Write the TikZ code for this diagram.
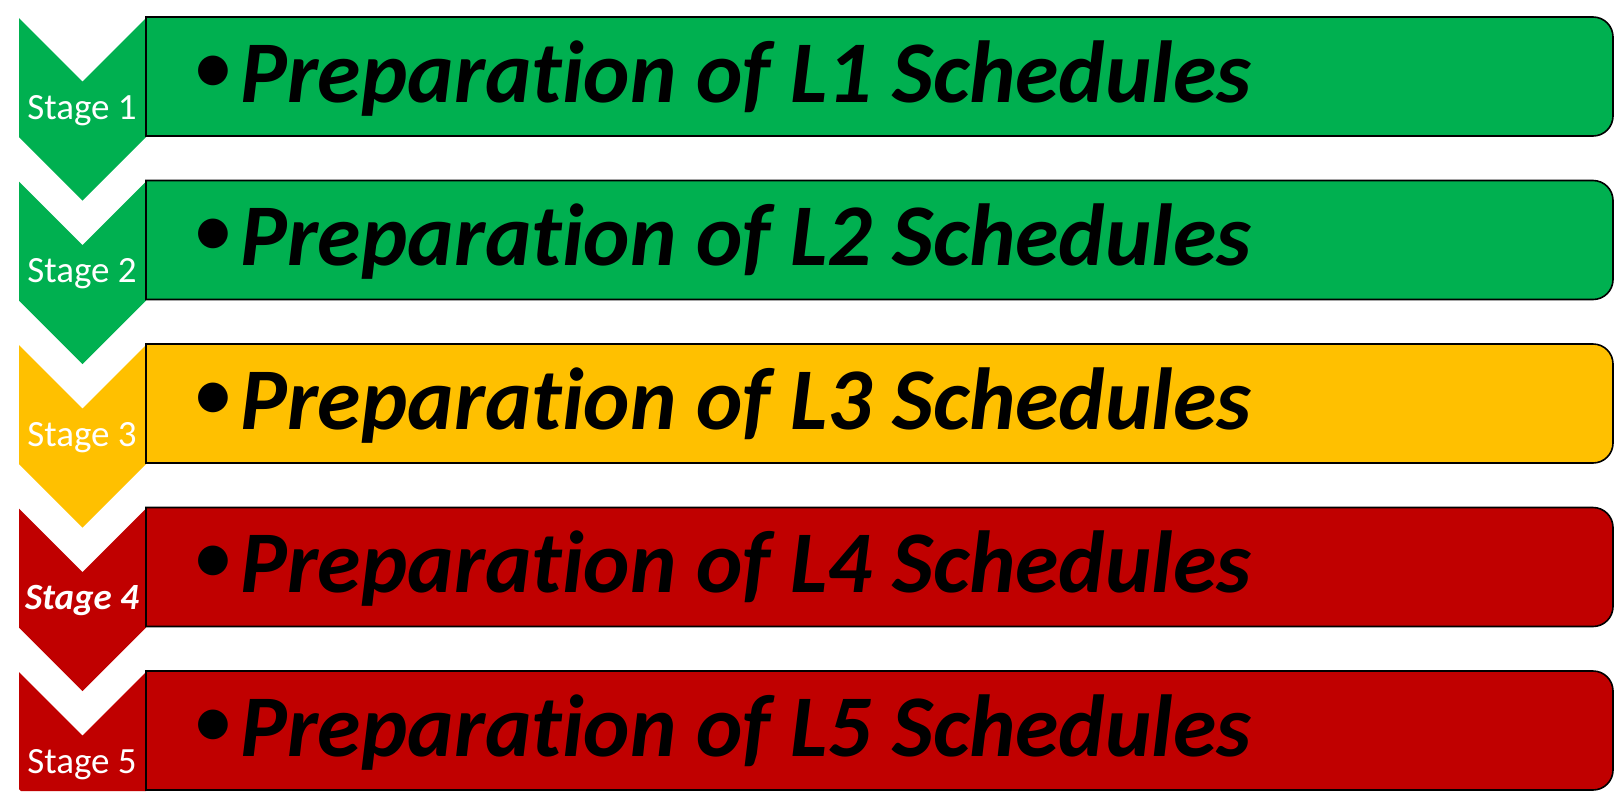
\documentclass[tikz,border=0pt]{standalone}
\usepackage{fontspec}
\setmainfont{Carlito}[Ligatures=NoCommon]
\definecolor{cgreen}{RGB}{0,176,80}
\definecolor{cyellow}{RGB}{255,192,0}
\definecolor{cred}{RGB}{192,0,0}
\tikzset{
  chev/.style={fill=#1, draw=none},
  bar/.style={fill=#1, draw=black, line width=1.6pt},
  stagetxt/.style={text=white, anchor=base, inner sep=0pt, font=\fontsize{37}{40}\selectfont},
  maintxt/.style={text=black, anchor=base west, inner sep=0pt, font=\fontsize{88}{96}\selectfont\bfseries\itshape},
  bullettxt/.style={text=black, anchor=center, inner sep=0pt, font=\fontsize{84}{88}\selectfont},
}
\begin{document}
\begin{tikzpicture}[x=1pt,y=-1pt]
\useasboundingbox (0,0) rectangle (1624,809);
% chevrons
\foreach \T/\c in {17/cgreen,180.5/cgreen,344/cyellow,507.5/cred}{
  \fill[chev=\c] (19,\T+1) -- (82.5,\T+64.5) -- (146,\T+1) -- (146,\T+120) -- (82.5,\T+183.5) -- (19,\T+120) -- cycle;
}
\fill[chev=cred] (19,672) -- (82.5,735.5) -- (146,672) -- (146,791) -- (21,791) to[out=180,in=90] (19,789) -- cycle;
% bars
\foreach \T/\c/\n in {17/cgreen/1,180.5/cgreen/2,344/cyellow/3,507.5/cred/4,671/cred/5}{
  \draw[bar=\c] (146,\T) -- (1593,\T) arc[start angle=-90,end angle=0,radius=20] -- (1613,\T+99) arc[start angle=0,end angle=90,radius=20] -- (146,\T+119) -- cycle;
  \node[bullettxt] (d\n) at (213,\T+58) {•};
  \node[maintxt] (m\n) at (240,\T+85) {Preparation of L\n\ Schedules};
}
\node[stagetxt] (s1) at (82,119) {Stage 1};
\node[stagetxt] (s2) at (82,282.5) {Stage 2};
\node[stagetxt] (s3) at (82,446) {Stage 3};
\node[stagetxt,font=\fontsize{37}{40}\selectfont\bfseries\itshape] (s4) at (82,609.5) {Stage 4};
\node[stagetxt] (s5) at (82,773) {Stage 5};
\end{tikzpicture}
\end{document}
